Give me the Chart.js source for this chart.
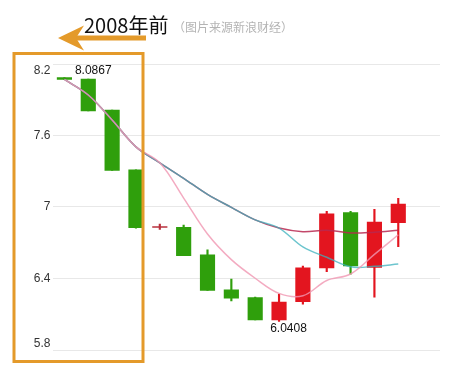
<!DOCTYPE html>
<html>
<head>
<meta charset="utf-8">
<script src="https://cdn.jsdelivr.net/npm/chart.js@4"></script>
<style>
  body { margin: 0; background: #fff; }
  #wrap { position: relative; width: 452px; height: 370px; }
  #title { position: absolute; left: 84px; top: 13px; font: 20px "Noto Sans CJK SC", sans-serif; line-height: 24px; color: #111; }
  #src { position: absolute; left: 173px; top: 19px; font: 12px "Noto Sans CJK SC", sans-serif; line-height: 16px; color: #b4b4b4; }
</style>
</head>
<body>
<div id="wrap">
  <canvas id="kline" width="452" height="370"></canvas>
  <div id="title">2008年前</div>
  <div id="src">（图片来源新浪财经）</div>
</div>
<script>
// candles
const opens  = [8.0867, 8.074, 7.814, 7.311, 6.828, 6.83, 6.598, 6.304, 6.24, 6.052, 6.206, 6.489, 6.953, 6.494, 6.869];
const closes = [8.07, 7.806, 7.308, 6.827, 6.836, 6.592, 6.30, 6.234, 6.052, 6.203, 6.489, 6.942, 6.505, 6.874, 7.025];
const highs  = [8.0867, 8.074, 7.814, 7.311, 6.857, 6.849, 6.64, 6.396, 6.245, 6.27, 6.505, 6.964, 6.964, 6.981, 7.073];
const lows   = [8.07, 7.806, 7.308, 6.822, 6.812, 6.592, 6.30, 6.212, 6.052, 6.0408, 6.184, 6.458, 6.436, 6.243, 6.667];

// moving averages
const ma5  = [8.07, 7.94, 7.73, 7.505, 7.371, 7.075, 6.773, 6.558, 6.402, 6.275, 6.255, 6.383, 6.438, 6.602, 6.767];
const ma10 = [8.07, 7.94, 7.73, 7.505, 7.371, 7.241, 7.106, 6.997, 6.892, 6.823, 6.665, 6.578, 6.498, 6.502, 6.521];
const ma20 = [8.07, 7.94, 7.73, 7.505, 7.371, 7.241, 7.106, 6.997, 6.892, 6.823, 6.793, 6.805, 6.782, 6.789, 6.804];

const yTicks = [5.8, 6.4, 7, 7.6, 8.2];

const UP = "#e3151f";
const DOWN = "#2f9f0c";
const ORANGE = "#e49a2a";

const bodyColors = opens.map((o, i) => {
  if (i === 4) return "#b9303c";
  return closes[i] >= o ? UP : DOWN;
});

const xy = (arr) => arr.map((v, i) => ({ x: i, y: v }));

const ann = {
  id: "ann",
  afterDraw(chart) {
    const c = chart.ctx;
    const y = chart.scales.y;
    const x = chart.scales.x;
    const area = chart.chartArea;

    // y labels, clamped inside like the original
    c.save();
    c.font = "12px 'Liberation Sans', Arial, sans-serif";
    c.fillStyle = "#333";
    c.textAlign = "right";
    c.textBaseline = "middle";
    yTicks.forEach((v) => {
      let py = y.getPixelForValue(v);
      py = Math.min(Math.max(py, area.top + 7), area.bottom - 6);
      c.fillText(String(v), 50.5, py);
    });

    // max / min marks
    const hi = highs.indexOf(Math.max(...highs));
    const lo = lows.indexOf(Math.min(...lows));
    c.fillStyle = "#111";
    c.textAlign = "left";
    c.fillText(highs[hi].toFixed(4), x.getPixelForValue(hi) + 10.5, y.getPixelForValue(highs[hi]) - 6.5);
    c.textAlign = "center";
    c.fillText(lows[lo].toFixed(4), x.getPixelForValue(lo) + 9.5, y.getPixelForValue(lows[lo]) + 7);

    // orange box + arrow
    c.strokeStyle = ORANGE;
    c.lineWidth = 3;
    c.strokeRect(14, 53.5, 129, 308);
    c.fillStyle = ORANGE;
    c.fillRect(74, 35.5, 72, 5);
    c.beginPath();
    c.moveTo(58, 38);
    c.lineTo(84, 25.5);
    c.lineTo(76, 38);
    c.lineTo(84, 50.5);
    c.closePath();
    c.fill();
    c.restore();
  },
};

new Chart(document.getElementById("kline"), {
  type: "bar",
  data: {
    datasets: [
      {
        type: "line",
        data: xy(ma20),
        borderColor: "rgba(185, 40, 80, 0.85)",
        borderWidth: 1.5,
        pointRadius: 0,
        tension: 0.35,
        order: 2,
      },
      {
        type: "line",
        data: xy(ma10),
        borderColor: "rgba(60, 178, 190, 0.75)",
        borderWidth: 1.5,
        pointRadius: 0,
        tension: 0.35,
        order: 1,
      },
      {
        type: "line",
        data: xy(ma5),
        borderColor: "rgba(240, 150, 178, 0.8)",
        borderWidth: 1.5,
        pointRadius: 0,
        tension: 0.35,
        order: 0,
      },
      {
        data: opens.map((o, i) => ({ x: i, y: [o, closes[i]] })),
        backgroundColor: bodyColors,
        barThickness: 14.5,
        grouped: false,
        order: 3,
      },
      {
        data: lows.map((l, i) => ({ x: i, y: [l, highs[i]] })),
        backgroundColor: bodyColors,
        barThickness: 1.5,
        grouped: false,
        order: 4,
      },
    ],
  },
  options: {
    responsive: false,
    animation: false,
    layout: { padding: { left: 52.5, right: 12, top: 64, bottom: 20 } },
    plugins: { legend: { display: false }, tooltip: { enabled: false } },
    scales: {
      x: { type: "linear", min: -0.5, max: 15.75, offset: false, display: false },
      y: {
        min: 5.8,
        max: 8.2,
        afterBuildTicks: (s) => { s.ticks = yTicks.map((v) => ({ value: v })); },
        afterFit: (s) => { s.width = 0; },
        ticks: { display: false },
        border: { display: false },
        grid: { color: "#e8e8e8", drawTicks: false },
      },
    },
  },
  plugins: [ann],
});
</script>
</body>
</html>
